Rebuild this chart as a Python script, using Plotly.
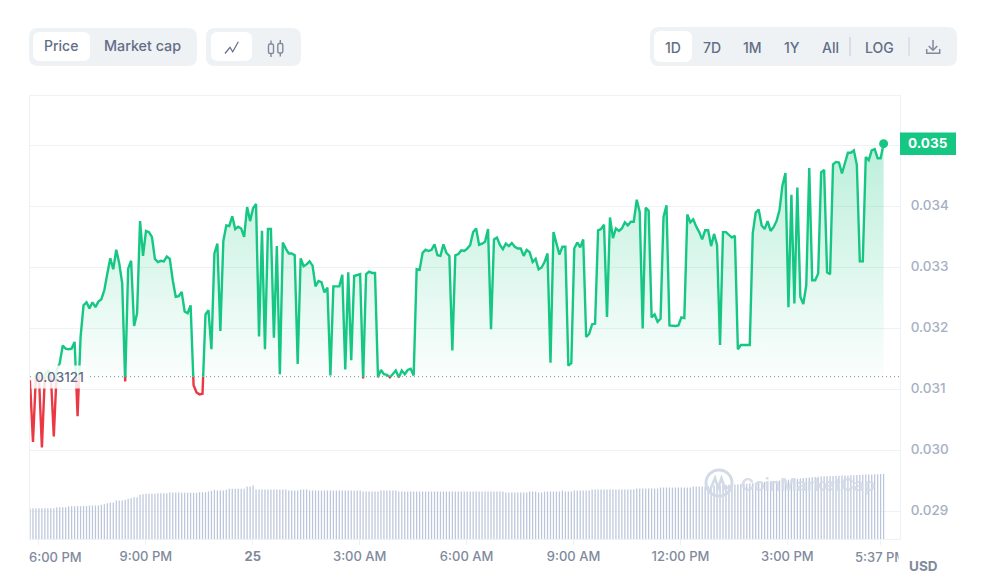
import numpy as np
import pandas as pd
import plotly.graph_objects as go

PRICE_UNITS = [
3115,3014,3123,3123,3005,3123,3132,3124,3023,3132,3143,3172,
3167,3166,3167,3178,3056,3186,3238,3243,3233,3243,3235,3244,
3248,3263,3290,3315,3297,3329,3307,3274,3113,3298,3311,3204,
3225,3376,3319,3360,3358,3350,3314,3309,3311,3310,3318,3314,
3279,3252,3253,3260,3228,3225,3238,3107,3095,3092,3093,3223,
3230,3166,3323,3339,3196,3343,3369,3368,3384,3363,3367,3364,
3350,3399,3376,3397,3404,3187,3360,3166,3363,3363,3185,3335,
3125,3341,3331,3323,3323,3320,3142,3315,3302,3305,3310,3303,
3269,3278,3276,3259,3267,3123,3269,3269,3269,3288,3133,3292,
3148,3286,3287,3289,3118,3289,3293,3291,3291,3120,3132,3125,
3124,3120,3125,3131,3120,3131,3125,3132,3134,3123,3297,3296,
3324,3329,3327,3329,3338,3320,3319,3338,3324,3319,3164,3320,
3322,3328,3327,3331,3337,3358,3364,3337,3339,3342,3363,3199,
3346,3349,3337,3330,3339,3335,3340,3334,3331,3331,3319,3329,
3325,3309,3314,3297,3300,3309,3323,3144,3358,3339,3321,3334,
3334,3139,3143,3331,3341,3333,3346,3186,3191,3207,3208,3361,
3363,3370,3219,3382,3348,3364,3360,3364,3374,3369,3375,3375,
3411,3391,3200,3398,3393,3218,3223,3211,3216,3383,3402,3205,
3204,3204,3205,3218,3217,3387,3374,3379,3367,3358,3346,3361,
3361,3335,3355,3337,3173,3358,3358,3353,3349,3352,3166,3173,
3173,3173,3173,3356,3390,3395,3369,3363,3376,3360,3366,3376,
3394,3435,3455,3235,3419,3241,3431,3252,3240,3271,3463,3279,
3279,3290,3456,3460,3292,3289,3469,3473,3472,3454,3473,3488,
3488,3492,3468,3310,3310,3481,3476,3492,3494,3479,3479,3503,
]
VOLUME = [
30.8,30.8,30.8,30.8,30.8,30.8,30.8,30.8,30.8,31.8,31.8,31.8,
31.8,32.8,32.8,32.8,32.8,32.8,33.0,33.0,33.5,33.5,33.5,33.5,
34.2,34.8,35.8,36.5,36.5,38.5,38.5,38.5,39.2,40.2,40.8,41.8,
41.8,44.2,44.8,45.2,45.2,45.2,45.2,45.8,45.8,45.8,45.8,46.5,
46.5,46.5,46.5,46.2,46.2,46.2,46.2,46.2,46.2,46.8,46.8,46.8,
47.5,48.2,49.2,48.5,48.5,48.5,49.2,50.2,50.2,50.2,50.2,50.2,
50.2,52.5,52.5,53.5,49.5,49.5,49.5,49.5,49.5,49.5,49.5,49.5,
49.5,49.5,49.5,48.5,48.5,48.5,48.5,49.5,49.5,49.5,48.5,48.5,
48.5,48.5,48.5,48.5,48.5,48.5,48.5,48.5,48.5,48.5,48.5,48.5,
48.5,48.5,48.5,48.5,47.5,47.5,47.5,47.5,47.5,47.5,48.5,48.5,
48.5,48.5,48.5,48.5,47.5,47.5,47.5,47.5,47.5,47.5,47.5,47.5,
47.5,47.5,47.5,47.5,47.5,47.5,47.5,47.5,47.5,47.5,47.5,47.5,
47.5,47.5,47.5,47.5,47.5,47.5,47.5,47.5,47.5,47.5,47.5,47.5,
47.5,47.5,47.5,47.5,46.5,46.5,46.5,46.5,46.5,46.5,46.5,46.5,
47.5,47.5,47.5,46.5,46.5,47.5,47.5,47.5,47.5,47.5,47.5,48.5,
47.5,47.5,47.5,48.5,48.5,48.5,48.5,48.5,48.5,49.5,49.5,49.5,
49.5,49.5,49.5,49.5,49.5,49.5,49.5,49.5,49.5,49.5,49.5,49.5,
50.5,50.5,50.5,50.5,50.5,50.5,50.5,50.5,51.5,51.5,51.5,51.5,
51.5,51.5,51.5,51.5,51.5,51.5,51.5,52.5,52.5,52.5,52.5,52.5,
52.8,53.2,53.5,53.5,53.8,54.0,54.2,54.2,54.5,54.5,54.8,55.0,
55.0,55.2,55.5,55.8,56.0,56.5,56.8,57.0,57.2,57.5,58.0,58.2,
58.5,58.8,59.0,59.3,59.6,60.0,60.3,60.6,61.0,61.3,61.5,61.8,
62.0,62.2,62.4,62.6,62.8,63.0,63.1,63.2,63.3,63.5,63.5,63.6,
63.8,63.8,64.0,64.0,64.2,64.4,64.5,64.5,64.7,64.8,65.0,65.2,
]
BASELINE = 0.03121
Y_TICKS = [0.029, 0.030, 0.031, 0.032, 0.033, 0.034, 0.035]
Y_LABELS = ["0.029", "0.030", "0.031", "0.032", "0.033", "0.034", ""]
X_TICKS = ["2024-01-24 18:00", "2024-01-24 21:00", "2024-01-25 00:00", "2024-01-25 03:00",
           "2024-01-25 06:00", "2024-01-25 09:00", "2024-01-25 12:00", "2024-01-25 15:00",
           "2024-01-25 17:37"]
X_LABELS = ["", "9:00 PM", "<b>25</b>", "3:00 AM", "6:00 AM", "9:00 AM", "12:00 PM", "3:00 PM", ""]
LAST_PRICE = "0.035"

GREEN, RED = "#16c784", "#ea3943"
GRID = "#eff2f5"
FONT = "Inter"
W, H = 988, 584
L, R, T, B = 30, 900, 96, 539

price = np.array(PRICE_UNITS) / 1e5
start = pd.Timestamp("2024-01-24 17:45").value // 10**6
end = pd.Timestamp("2024-01-25 17:42").value // 10**6
t_ms = np.linspace(start, end, len(price))
to_dt = lambda a: pd.to_datetime(np.asarray(a, dtype="int64"), unit="ms")

# split the price path at the baseline crossings
gx, gy, rx, ry, fx, fy = [], [], [], [], [], []
for i in range(len(price)):
    if i:
        a, b = price[i - 1], price[i]
        if (a - BASELINE) * (b - BASELINE) < 0:
            c = t_ms[i - 1] + (BASELINE - a) / (b - a) * (t_ms[i] - t_ms[i - 1])
            gx.append(c); gy.append(BASELINE)
            rx.append(c); ry.append(BASELINE)
            fx.append(c); fy.append(BASELINE)
            if b > BASELINE:
                rx.append(c); ry.append(None)
            else:
                gx.append(c); gy.append(None)
    if price[i] >= BASELINE:
        gx.append(t_ms[i]); gy.append(price[i])
    else:
        rx.append(t_ms[i]); ry.append(price[i])
    fx.append(t_ms[i]); fy.append(max(price[i], BASELINE))

# volume columns as thin vertical strokes (bars this narrow merge when rounded to pixels)
vol_t = to_dt(t_ms)
vol_x, vol_y = [], []
for tt, vv in zip(vol_t, VOLUME):
    vol_x += [tt, tt, None]
    vol_y += [0, vv, None]

fig = go.Figure()
fig.add_scatter(x=vol_x, y=vol_y, yaxis="y2", mode="lines", connectgaps=False,
                line=dict(color="#bcc6da", width=1.25), hoverinfo="skip")
fig.add_scatter(x=to_dt(fx), y=[BASELINE] * len(fx), mode="lines", line=dict(width=0, color="rgba(0,0,0,0)"),
                hoverinfo="skip")
fig.add_scatter(x=to_dt(fx), y=fy, mode="lines", line=dict(width=0, color="rgba(0,0,0,0)"), fill="tonexty",
                fillgradient=dict(type="vertical",
                                  colorscale=[[0, "rgba(22,199,132,0.02)"], [1, "rgba(22,199,132,0.30)"]],
                                  start=BASELINE, stop=0.0352), hoverinfo="skip")
fig.add_scatter(x=to_dt(rx), y=ry, mode="lines", line=dict(color=RED, width=2.4), connectgaps=False)
fig.add_scatter(x=to_dt(gx), y=gy, mode="lines", line=dict(color=GREEN, width=2.4), connectgaps=False)
fig.add_scatter(x=to_dt(t_ms[-1:]), y=price[-1:], mode="markers", marker=dict(color=GREEN, size=9))


def px(x):
    return (x - L) / (R - L)


def py(y):
    return (B - y) / (B - T)


def pt(x, y):
    return f"{px(x):.5f},{py(y):.5f}"


def rrect(x0, y0, x1, y1, r):
    return (f"M{pt(x0 + r, y0)} L{pt(x1 - r, y0)} Q{pt(x1, y0)} {pt(x1, y0 + r)} "
            f"L{pt(x1, y1 - r)} Q{pt(x1, y1)} {pt(x1 - r, y1)} L{pt(x0 + r, y1)} "
            f"Q{pt(x0, y1)} {pt(x0, y1 - r)} L{pt(x0, y0 + r)} Q{pt(x0, y0)} {pt(x0 + r, y0)} Z")


def poly(points):
    return "M" + " L".join(pt(*p) for p in points)


shapes = [dict(type="line", xref="paper", x0=0, x1=1, yref="y", y0=BASELINE, y1=BASELINE, layer="below",
               line=dict(color="#808a9d", width=1, dash="1px,3px"))]


def fill_shape(path, color):
    shapes.append(dict(type="path", xref="paper", yref="paper", path=path, fillcolor=color, line_width=0))


def stroke(path, color="#616e85", width=1.4):
    shapes.append(dict(type="path", xref="paper", yref="paper", path=path,
                       line=dict(color=color, width=width)))


# toolbars
fill_shape(rrect(29, 28, 197, 66, 9), GRID)
fill_shape(rrect(33, 32, 90, 61, 7), "#ffffff")
fill_shape(rrect(206, 28, 301, 66, 9), GRID)
fill_shape(rrect(211, 32, 252, 61, 7), "#ffffff")
fill_shape(rrect(650, 27, 957, 66, 9), GRID)
fill_shape(rrect(654, 31, 692, 62, 7), "#ffffff")
stroke(poly([(850, 37), (850, 56)]), "#cfd6e4", 1.5)
stroke(poly([(909, 37), (909, 56)]), "#cfd6e4", 1.2)
# current-price tag
fill_shape(poly([(900, 132.5), (956, 132.5), (956, 155), (900, 155)]) + " Z", GREEN)
# line-chart icon
stroke(poly([(225, 53.5), (230, 47.3), (232.7, 51.7), (238.3, 41.7)]), "#616e85", 1.2)
# candle icon
for cx, top, bot in [(271, 44, 53.5), (280.3, 43.5, 53)]:
    stroke(rrect(cx - 2.5, top, cx + 2.5, bot, 1.5), "#808a9d", 1.4)
    stroke(poly([(cx, top - 3.5), (cx, top)]), "#808a9d", 1.4)
    stroke(poly([(cx, bot), (cx, bot + 3.5)]), "#808a9d", 1.4)
# download icon
stroke(poly([(933, 40), (933, 50)]), "#808a9d", 1.5)
stroke(poly([(928.7, 46), (933, 50.3), (937.3, 46)]), "#808a9d", 1.5)
stroke(poly([(926.7, 49), (926.7, 53.3), (939.7, 53.3), (939.7, 49)]), "#808a9d", 1.5)
# watermark logo
WM = "#d3dae7"
shapes.append(dict(type="circle", xref="paper", yref="paper", x0=px(706), x1=px(732), y0=py(496), y1=py(470),
                   line=dict(color=WM, width=3)))
stroke(poly([(710, 490), (715, 478), (718, 488), (721.5, 478), (725, 489), (731, 486)]), WM, 2.6)


def note(text, x, y, size=13, color="#616e85", weight=500, **kw):
    return dict(text=text, x=px(x), y=py(y), xref="paper", yref="paper", showarrow=False,
                xanchor=kw.pop("xanchor", "center"), yanchor="middle",
                font=dict(family=FONT, size=size, color=color, weight=weight), **kw)


annotations = [
    note("Price", 61, 46, 14, "#616e85", 500),
    note("Market cap", 142.5, 46, 14.3, "#616e85", 500),
    note("1D", 673, 47, 14, "#616e85", 500),
    note("7D", 712, 47, 14, "#616e85", 500),
    note("1M", 752, 47, 14, "#616e85", 500),
    note("1Y", 792, 47, 14, "#616e85", 500),
    note("All", 830, 47, 14, "#616e85", 500),
    note("LOG", 879.5, 47, 14, "#616e85", 500),
    note("0.03121", 59, 377, 13.5, "#616e85", 500, bgcolor="rgba(255,255,255,0.85)", borderpad=3),
    note(LAST_PRICE, 928, 143.5, 13.5, "#ffffff", 700),
    note("CoinMarketCap", 808, 484, 17.5, "rgba(211,218,231,0.9)", 700),
    note("6:00 PM", 55.5, 556.5, 13, "#808a9d", 500),
    note("5:37 PM", 880.5, 556.5, 13, "#808a9d", 500),
    note(" ", 904, 556.5, 8, "#ffffff", 500, bgcolor="#ffffff", width=8, height=18),
    note("USD", 923, 566, 13.5, "#808a9d", 700),
]

fig.update_layout(
    width=W, height=H, autosize=False, showlegend=False,
    margin=dict(l=L, r=W - R, t=T, b=H - B, pad=0),
    paper_bgcolor="#ffffff", plot_bgcolor="#ffffff",
    font=dict(family=FONT, size=13, color="#808a9d"),
    xaxis=dict(type="date", range=["2024-01-24 17:45", "2024-01-25 18:09:36"],
               tickmode="array", tickvals=X_TICKS, ticktext=X_LABELS,
               ticks="outside", ticklen=5, tickcolor=GRID, tickwidth=1,
               showgrid=False, showline=True, mirror=True, linecolor=GRID, linewidth=1,
               zeroline=False, fixedrange=True,
               tickfont=dict(family=FONT, size=13, color="#808a9d", weight=500)),
    yaxis=dict(side="right", range=[0.028549, 0.035811], tickmode="array",
               tickvals=Y_TICKS, ticktext=Y_LABELS, gridcolor=GRID, gridwidth=1,
               ticks="outside", ticklen=7, tickcolor="rgba(0,0,0,0)", ticklabelshift=-1,
               showline=True, mirror=True, linecolor=GRID, linewidth=1,
               zeroline=False, fixedrange=True,
               tickfont=dict(family=FONT, size=13.5, color="#a6b0c3", weight=500)),
    yaxis2=dict(overlaying="y", range=[0, B - T], visible=False, fixedrange=True),
    shapes=shapes, annotations=annotations,
)

fig.write_html("out.html", config=dict(displayModeBar=False),
               post_script="document.body.style.margin='0';")
